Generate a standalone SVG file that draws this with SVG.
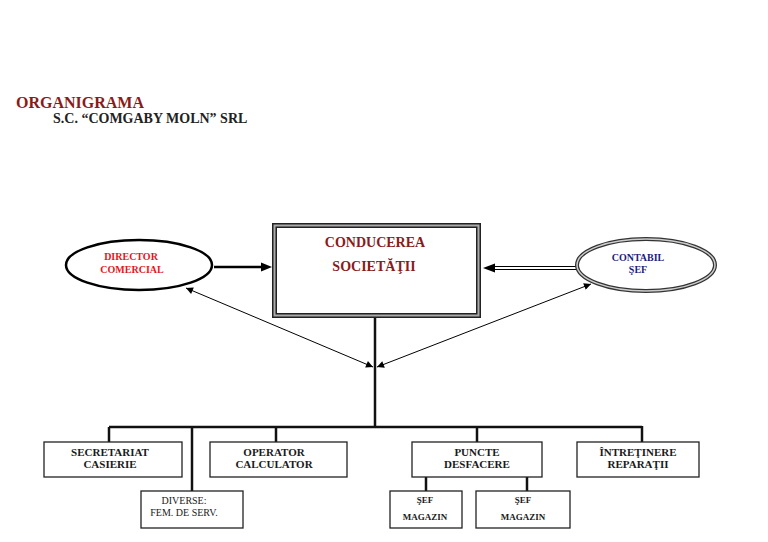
<svg xmlns="http://www.w3.org/2000/svg" width="768" height="542" viewBox="0 0 768 542">
<defs>
<marker id="ah" viewBox="0 0 10 10" refX="10" refY="5" markerWidth="9" markerHeight="7" markerUnits="userSpaceOnUse" orient="auto-start-reverse">
<path d="M0,0 L10,5 L0,10 z" fill="#000"/>
</marker>
</defs>
<style>
text{font-family:"Liberation Serif","Times New Roman",serif;font-weight:bold;text-anchor:middle}
.box{fill:#fff;stroke:#222;stroke-width:1.3}
.drop{stroke:#111;stroke-width:2.5;fill:none}
.lbl{font-size:11px;fill:#1a1a1a}
.sm{font-size:9px;fill:#1a1a1a}
.thin{stroke:#000;stroke-width:1;fill:none}
</style>
<rect width="768" height="542" fill="#fff"/>
<g id="title">
<text x="16" y="108" style="text-anchor:start;font-size:16px;fill:#8b1a1a">ORGANIGRAMA</text>
<text x="53" y="123" style="text-anchor:start;font-size:14px;fill:#222">S.C. “COMGABY MOLN” SRL</text>
</g>
<g id="connectors">
<line x1="375" y1="318" x2="375" y2="428" class="drop"/>
<line x1="109" y1="427" x2="642" y2="427" class="drop"/>
<line x1="109" y1="427" x2="109" y2="442" class="drop"/>
<line x1="192" y1="427" x2="192" y2="491" class="drop"/>
<line x1="276" y1="427" x2="276" y2="442" class="drop"/>
<line x1="477" y1="427" x2="477" y2="442" class="drop"/>
<line x1="642" y1="426" x2="642" y2="442" class="drop"/>
<line x1="426" y1="477" x2="426" y2="491" class="drop"/>
<line x1="527" y1="477" x2="527" y2="491" class="drop"/>
<line x1="186" y1="288" x2="373" y2="367" class="thin" marker-start="url(#ah)" marker-end="url(#ah)"/>
<line x1="591" y1="284" x2="377" y2="367" class="thin" marker-start="url(#ah)" marker-end="url(#ah)"/>
<line x1="214" y1="267" x2="262" y2="267" stroke="#000" stroke-width="2.5"/>
<polygon points="272,267 261,262.5 261,271.5" fill="#000"/>
<line x1="493" y1="266.5" x2="578" y2="266.5" stroke="#000" stroke-width="1"/>
<line x1="493" y1="269.5" x2="578" y2="269.5" stroke="#000" stroke-width="1"/>
<polygon points="483,268 495,263.5 495,272.5" fill="#000"/>
</g>
<g id="conducerea">
<rect x="274.5" y="225.5" width="204" height="90" fill="#fff" stroke="#222" stroke-width="5"/>
<rect x="274.5" y="225.5" width="204" height="90" fill="none" stroke="#aaa" stroke-width="2"/>
<text x="375" y="247" style="font-size:14px;fill:#8b1a1a">CONDUCEREA</text>
<text x="374" y="271" style="font-size:14px;fill:#8b1a1a">SOCIETĂŢII</text>
</g>
<g id="director">
<ellipse cx="139" cy="265" rx="73" ry="25" fill="#fff" stroke="#000" stroke-width="2.5"/>
<text x="131" y="260" style="font-size:10px;fill:#e8141c">DIRECTOR</text>
<text x="132" y="273" style="font-size:10px;fill:#e8141c">COMERCIAL</text>
</g>
<g id="contabil">
<ellipse cx="646" cy="265" rx="69" ry="26" fill="#fff" stroke="#333" stroke-width="4"/>
<ellipse cx="646" cy="265" rx="69" ry="26" fill="none" stroke="#ccc" stroke-width="1.5"/>
<text x="638" y="261" style="font-size:10px;fill:#1c1c80">CONTABIL</text>
<text x="638" y="273" style="font-size:10px;fill:#1c1c80">ŞEF</text>
</g>
<g id="secretariat">
<rect x="44" y="442" width="138" height="35" class="box"/>
<text x="110" y="456" class="lbl">SECRETARIAT</text>
<text x="110" y="468" class="lbl">CASIERIE</text>
</g>
<g id="operator">
<rect x="210" y="442" width="137" height="35" class="box"/>
<text x="274" y="456" class="lbl">OPERATOR</text>
<text x="274" y="468" class="lbl">CALCULATOR</text>
</g>
<g id="puncte">
<rect x="412" y="442" width="130" height="35" class="box"/>
<text x="477" y="456" class="lbl">PUNCTE</text>
<text x="477" y="468" class="lbl">DESFACERE</text>
</g>
<g id="intretinere">
<rect x="577" y="442" width="122" height="35" class="box"/>
<text x="638" y="456" class="lbl">ÎNTREŢINERE</text>
<text x="638" y="468" class="lbl">REPARAŢII</text>
</g>
<g id="diverse">
<rect x="141" y="491" width="102" height="37" class="box"/>
<text x="184" y="504" style="font-size:10px;font-weight:normal;fill:#1a1a1a">DIVERSE:</text>
<text x="184" y="516" style="font-size:10px;font-weight:normal;fill:#1a1a1a">FEM. DE SERV.</text>
</g>
<g id="sef-magazin-1">
<rect x="390" y="491" width="72" height="37" class="box"/>
<text x="425" y="503" class="sm">ŞEF</text>
<text x="425" y="520" class="sm">MAGAZIN</text>
</g>
<g id="sef-magazin-2">
<rect x="476" y="491" width="94" height="37" class="box"/>
<text x="523" y="503" class="sm">ŞEF</text>
<text x="523" y="520" class="sm">MAGAZIN</text>
</g>
</svg>
